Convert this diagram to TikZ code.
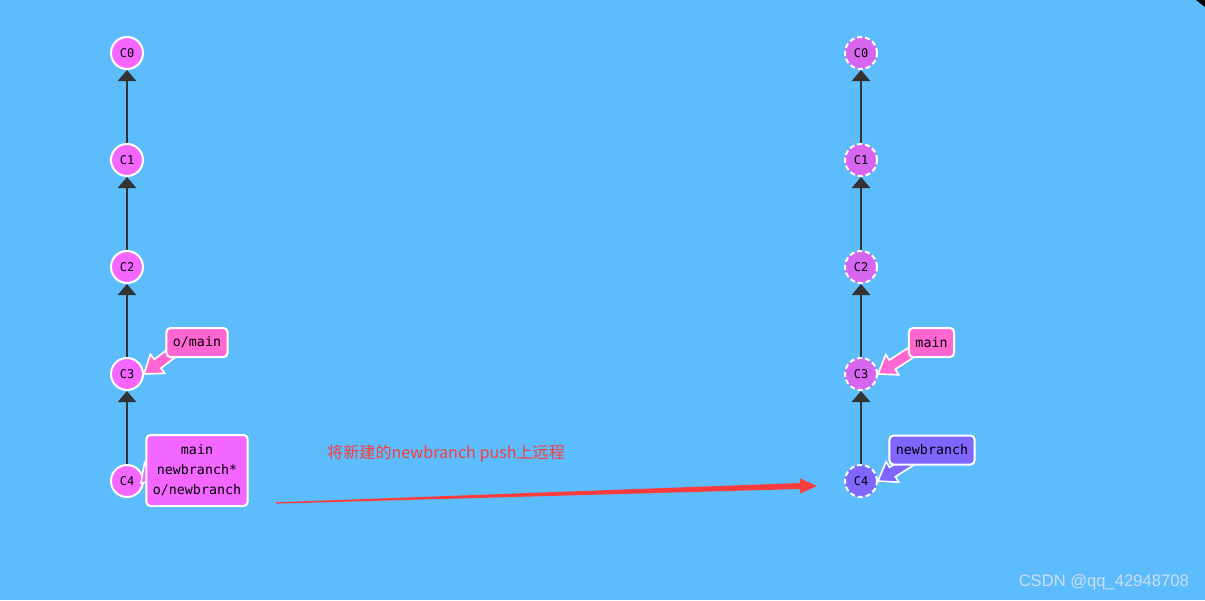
\documentclass[tikz,border=0pt]{standalone}
\usepackage{fontspec}
\setmainfont{Liberation Sans}
\newfontfamily\monof{DejaVu Sans Mono}
\newfontfamily\cjk{Noto Sans CJK SC}
\usetikzlibrary{arrows.meta,calc}
\definecolor{bgc}{RGB}{92,188,252}
\definecolor{cmtL}{RGB}{243,102,255}
\definecolor{cmtR}{RGB}{214,102,240}
\definecolor{cmtN}{RGB}{128,102,255}
\definecolor{tagP}{RGB}{255,102,210}
\definecolor{edgec}{RGB}{51,51,51}
\definecolor{redc}{RGB}{250,60,60}
\definecolor{wmark}{RGB}{205,222,238}
\tikzset{
  commit/.style={circle, minimum size=32pt, inner sep=0pt, draw=white, line width=2pt, font=\monof\fontsize{12}{13}\selectfont},
  remote/.style={commit, dashed, dash pattern=on 5pt off 3pt},
  parent/.style={draw=edgec, line width=2.5pt, -{Triangle[length=11pt,width=18pt]}},
  tagbox/.style={draw=white, line width=2pt, rounded corners=4pt, inner xsep=6.5pt, inner ysep=0pt, minimum height=29pt, font=\monof\fontsize{13.3}{20}\selectfont, align=center},
  pics/pointer/.style={code={
    \filldraw[fill=#1, draw=white, line width=1.6pt, line join=miter]
      (0,0) -- (17,12) -- (17,5.5) -- (48,5.5) -- (48,-5.5) -- (17,-5.5) -- (17,-12) -- cycle;
  }}
}
\begin{document}
\begin{tikzpicture}[x=1pt,y=-1pt]
\useasboundingbox (0,0) rectangle (1205,600);
\fill[bgc] (0,0) rectangle (1205,600);
\fill[black] (1196,0) -- (1205,0) -- (1205,7) -- cycle;

% left: local repository
\node[commit, fill=cmtL] (l0) at (127,53) {C0};
\node[commit, fill=cmtL] (l1) at (127,160) {C1};
\node[commit, fill=cmtL] (l2) at (127,267) {C2};
\node[commit, fill=cmtL] (l3) at (127,374) {C3};
\node[commit, fill=cmtL] (l4) at (127,481) {C4};
\draw[parent] (l1) -- (l0);
\draw[parent] (l2) -- (l1);
\draw[parent] (l3) -- (l2);
\draw[parent] (l4) -- (l3);

\coordinate (lt3) at ($(l3)+(17,0)$);
\pic[rotate=37] at (lt3) {pointer=tagP};
\node[tagbox, fill=tagP] (omain) at (197,342.5) {o/main};

\coordinate (lt4) at ($(l4)+(14,2)$);
\pic[rotate=45] at (lt4) {pointer=cmtL};
\node[tagbox, fill=cmtL, minimum height=71pt] (lbig) at (197,470.5) {main\\newbranch*\\o/newbranch};

% right: remote repository
\node[remote, fill=cmtR] (r0) at (861,53) {C0};
\node[remote, fill=cmtR] (r1) at (861,160) {C1};
\node[remote, fill=cmtR] (r2) at (861,267) {C2};
\node[remote, fill=cmtR] (r3) at (861,374) {C3};
\node[remote, fill=cmtN] (r4) at (861,481) {C4};
\draw[parent] (r1) -- (r0);
\draw[parent] (r2) -- (r1);
\draw[parent] (r3) -- (r2);
\draw[parent] (r4) -- (r3);

\coordinate (rt3) at ($(r3)+(17,0)$);
\pic[rotate=33] at (rt3) {pointer=tagP};
\node[tagbox, fill=tagP] (rmain) at (931.5,342.5) {main};

\coordinate (rt4) at ($(r4)+(17,0)$);
\pic[rotate=32] at (rt4) {pointer=cmtN};
\node[tagbox, fill=cmtN] (rnew) at (932,450) {newbranch};

% red annotation arrow
\coordinate (rs) at (276,503);
\coordinate (re) at (817,486);
\fill[redc] (rs) -- (276,502.3) -- (800,483) -- (800,478.5) -- (re) -- (800,493.5) -- (800,489) -- (276,503.6) -- cycle;
\node[text=redc, font=\cjk\fontsize{16.1}{18}\selectfont, inner sep=0pt, anchor=west] (note) at (327,454) {将新建的newbranch push上远程};

\node[text=wmark, font=\fontsize{16.6}{18}\selectfont, inner sep=0pt, anchor=east] (wm) at (1189,582) {CSDN @qq\_42948708};
\end{tikzpicture}
\end{document}
